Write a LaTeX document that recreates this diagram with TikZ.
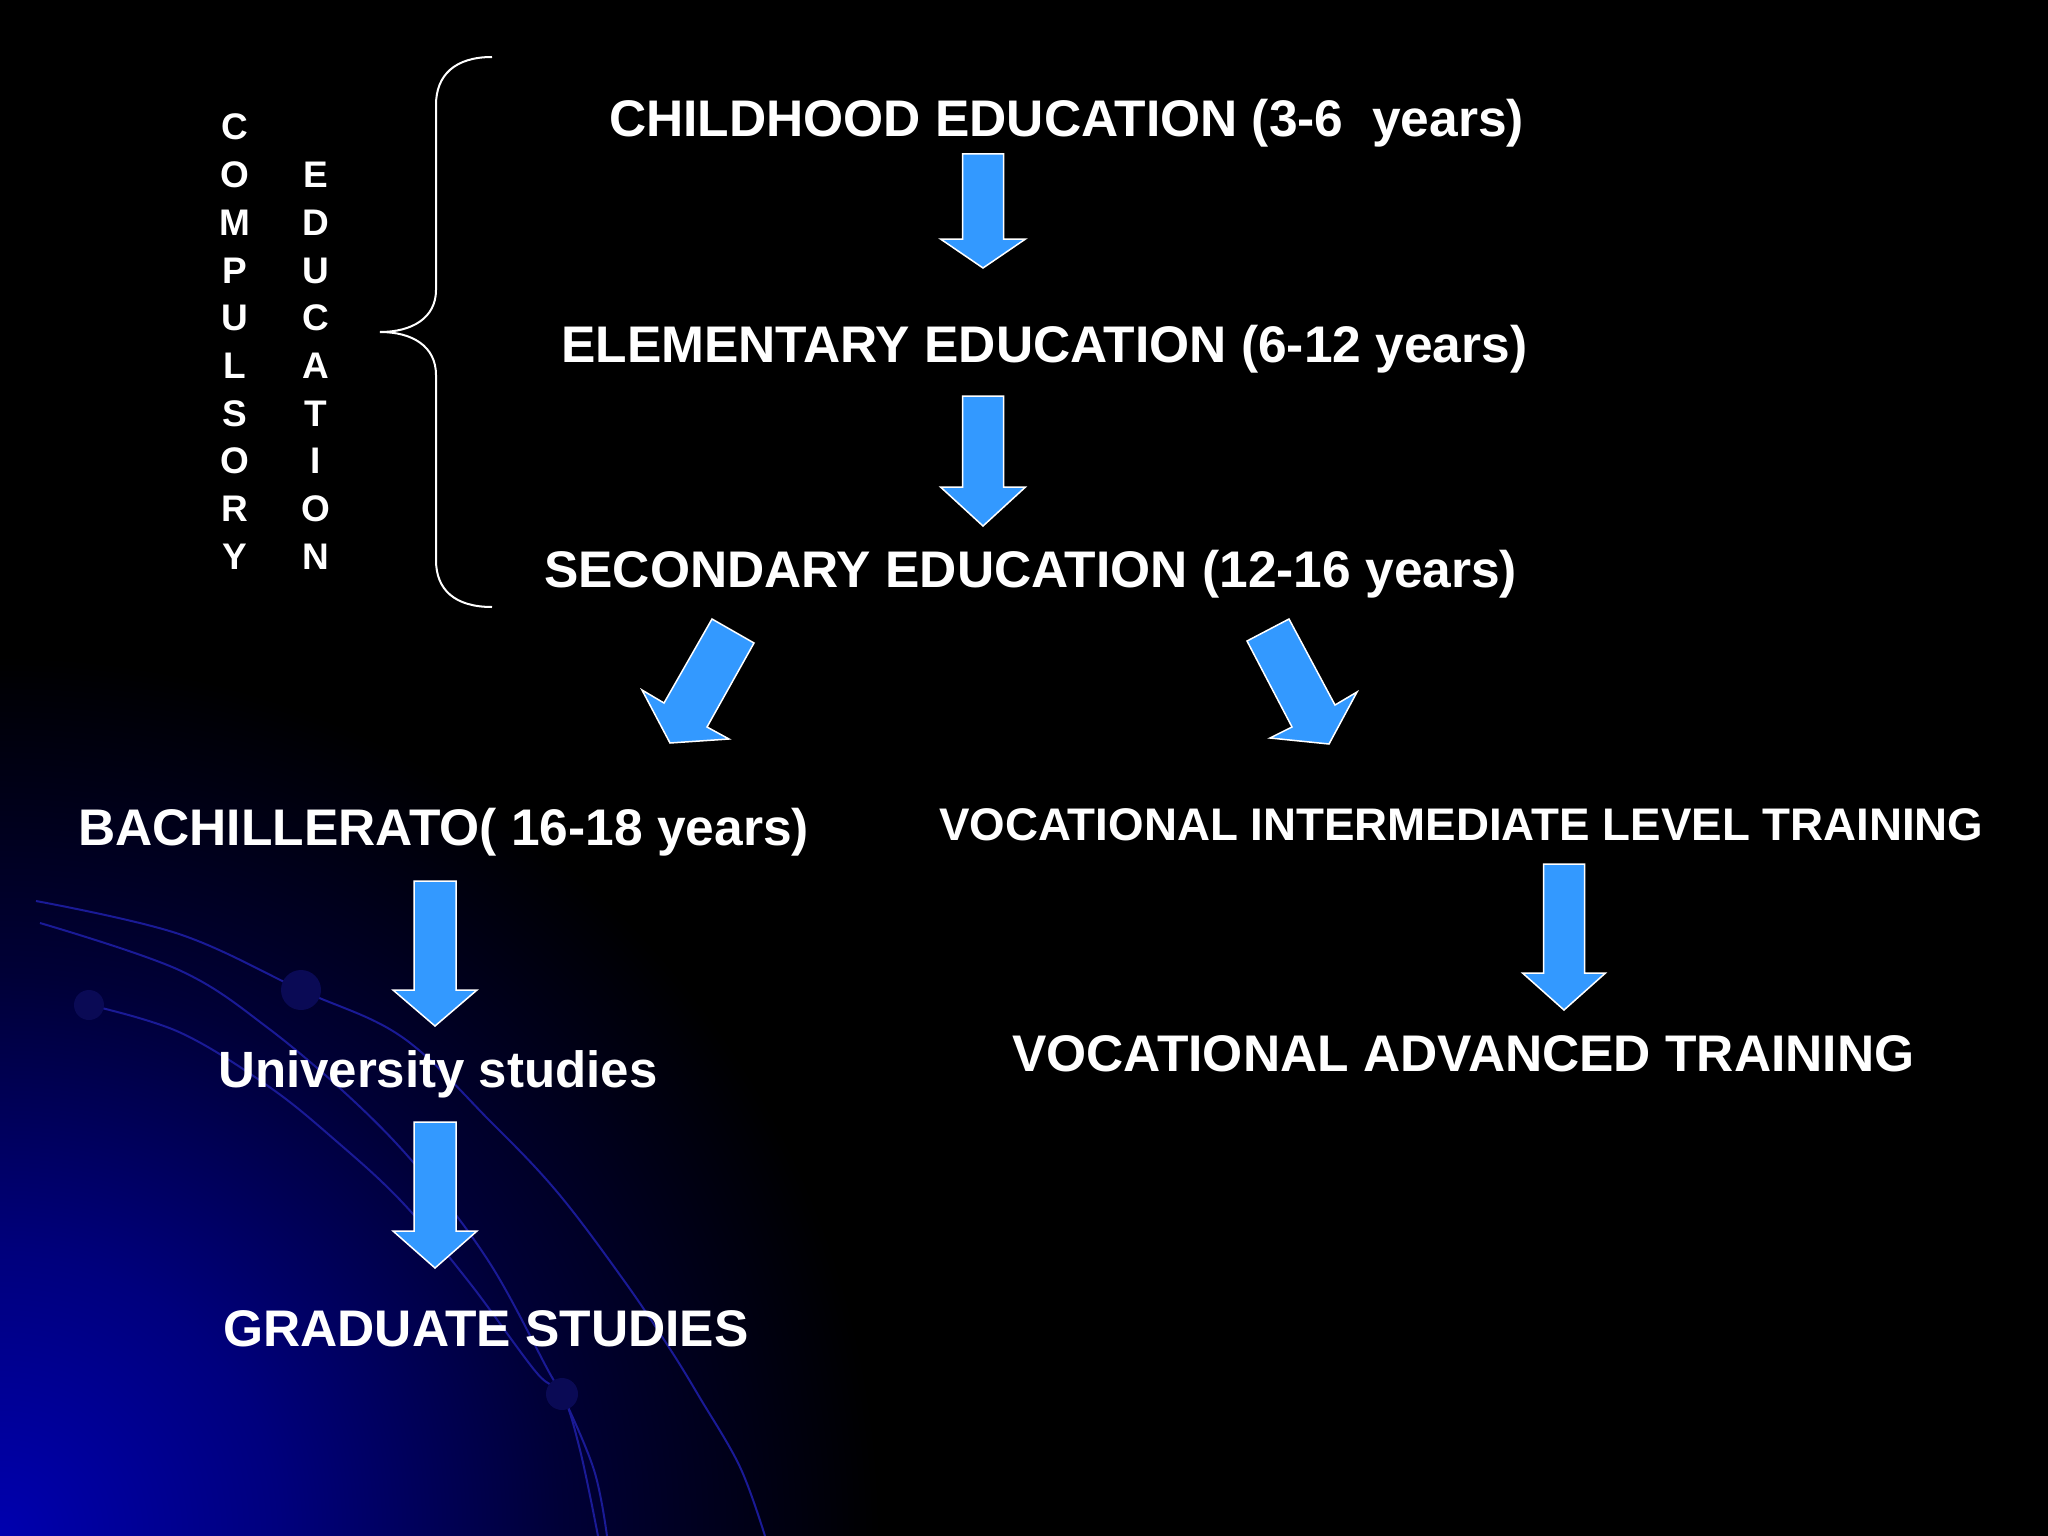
\documentclass[tikz,border=0pt]{standalone}
\usepackage{fontspec}
\setmainfont{Liberation Sans}
\definecolor{arrowblue}{RGB}{51,153,255}
\definecolor{glowA}{RGB}{0,0,175}
\definecolor{glowB}{RGB}{0,0,125}
\definecolor{glowC}{RGB}{0,0,55}
\definecolor{arcline}{RGB}{26,26,150}
\definecolor{arcdot}{RGB}{10,10,85}
\pgfdeclareradialshading{cornerglow}{\pgfpoint{0bp}{0bp}}{color(0bp)=(glowA); color(7bp)=(glowB); color(14bp)=(glowC); color(22bp)=(black); color(50bp)=(black)}
\tikzset{
  lbl/.style={text=white, font=\bfseries\fontsize{51.5}{60}\selectfont, inner sep=0pt, anchor=base west},
  lblsmall/.style={lbl, font=\bfseries\fontsize{45.7}{54}\selectfont},
  vlet/.style={text=white, font=\bfseries\fontsize{37}{40}\selectfont, inner sep=0pt, anchor=base},
  blockarrow/.style={fill=arrowblue, draw=white, line width=1.5pt, line join=miter},
  bgarc/.style={draw=arcline, line width=2pt},
  bracestyle/.style={draw=white, line width=2pt}
}
\newcommand\downblock[6]{%
  \filldraw[blockarrow] ({#1-#5},#2) -- ({#1+#5},#2) -- ({#1+#5},#3) -- ({#1+#6},#3)
    -- (#1,#4) -- ({#1-#6},#3) -- ({#1-#5},#3) -- cycle;}
\begin{document}
\begin{tikzpicture}[x=1pt,y=-1pt]
\useasboundingbox (0,0) rectangle (2048,1536);
\fill[black] (0,0) rectangle (2048,1536);
\begin{scope}
  \clip (0,0) rectangle (2048,1536);
  \shade[shading=cornerglow] (0,1536) circle (1000pt);
  % background arcs
  \draw[bgarc] plot[smooth, tension=0.6] coordinates {(36,901) (179,934) (301,990) (402,1037) (491,1122) (558,1193) (625,1282) (670,1349) (700,1398) (740,1467) (765,1536)};
  \draw[bgarc] plot[smooth, tension=0.6] coordinates {(40,923) (179,970) (268,1028) (357,1104) (424,1175) (491,1265) (549,1372) (562,1394) (594,1470) (607,1536)};
  \draw[bgarc] plot[smooth, tension=0.6] coordinates {(89,1005) (179,1032) (268,1086) (335,1140) (402,1202) (469,1282) (536,1372) (562,1394) (580,1450) (598,1536)};
  \fill[arcdot] (301,990) circle (20pt);
  \fill[arcdot] (89,1005) circle (15pt);
  \fill[arcdot] (562,1394) circle (16pt);
\end{scope}

% vertical words
\foreach \l [count=\i from 0] in {C,O,M,P,U,L,S,O,R,Y}
  \node[vlet] (cmp\i) at (235,{140+47.7*\i}) {\l};
\foreach \l [count=\i from 1] in {E,D,U,C,A,T,I,O,N}
  \node[vlet] (edu\i) at (316,{140+47.7*\i}) {\l};

% brace
\draw[bracestyle] (492,57) .. controls (455,57) and (436,75) .. (436,105) -- (436,290)
  .. controls (436,318) and (412,332) .. (380,332)
  .. controls (412,332) and (436,346) .. (436,375) -- (436,560)
  .. controls (436,590) and (455,607) .. (492,607);

% texts
\node[lbl] (child) at (609,136) {CHILDHOOD EDUCATION (3-6\ \ years)};
\node[lbl] (elem) at (561,362) {ELEMENTARY EDUCATION (6-12 years)};
\node[lbl] (sec) at (544,587) {SECONDARY EDUCATION (12-16 years)};
\node[lbl] (bach) at (78,845) {BACHILLERATO( 16-18 years)};
\node[lblsmall] (vocint) at (939,840) {VOCATIONAL INTERMEDIATE LEVEL TRAINING};
\node[lbl, font=\bfseries\fontsize{51}{60}\selectfont] (univ) at (218,1087) {University studies};
\node[lbl] (grad) at (223,1346) {GRADUATE STUDIES};
\node[lbl] (vocadv) at (1012,1071) {VOCATIONAL ADVANCED TRAINING};

% block arrows
\downblock{983}{154}{239}{268}{20.5}{42.5}
\downblock{983}{396}{487}{526}{20.5}{42.5}
\downblock{435}{881}{990}{1026}{21}{42}
\downblock{435}{1122}{1231}{1268}{21}{42}
\downblock{1564}{864}{973}{1010}{20.5}{41.5}
\filldraw[blockarrow] (712,619) -- (754,643) -- (707,727) -- (729,739) -- (670,743) -- (642,690) -- (664,703) -- cycle;
\filldraw[blockarrow] (1289,619) -- (1247,641) -- (1292,727) -- (1270,738) -- (1329,744) -- (1357,692) -- (1335,705) -- cycle;
\end{tikzpicture}
\end{document}
